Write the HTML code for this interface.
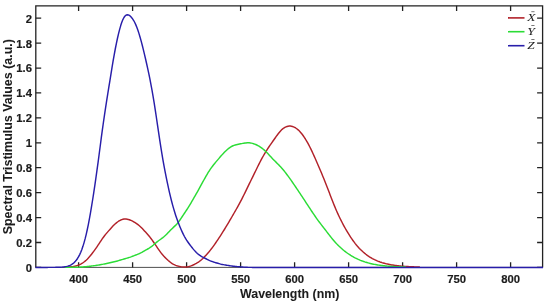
<!DOCTYPE html>
<html><head><meta charset="utf-8"><title>CIE 1964 Color Matching Functions</title>
<style>html,body{margin:0;padding:0;background:#fff;overflow:hidden}</style></head>
<body>
<svg width="550" height="307" viewBox="0 0 550 307" style="display:block">
<rect width="550" height="307" fill="#ffffff"/>
<g stroke="#222222" stroke-width="1.3" fill="none">
<path d="M35.8,267.4 L35.8,5.8 L542.6,5.8 L542.6,267.4"/>
<path d="M35.8,267.4 L542.6,267.4" stroke-width="0.8"/>
<path d="M78.60,267.4 v-5.1 M78.60,5.8 v5.1 M132.60,267.4 v-5.1 M132.60,5.8 v5.1 M186.60,267.4 v-5.1 M186.60,5.8 v5.1 M240.60,267.4 v-5.1 M240.60,5.8 v5.1 M294.60,267.4 v-5.1 M294.60,5.8 v5.1 M348.60,267.4 v-5.1 M348.60,5.8 v5.1 M402.60,267.4 v-5.1 M402.60,5.8 v5.1 M456.60,267.4 v-5.1 M456.60,5.8 v5.1 M510.60,267.4 v-5.1 M510.60,5.8 v5.1 M35.8,267.40 h5.4 M542.6,267.40 h-5.5 M35.8,242.48 h5.4 M542.6,242.48 h-5.5 M35.8,217.56 h5.4 M542.6,217.56 h-5.5 M35.8,192.64 h5.4 M542.6,192.64 h-5.5 M35.8,167.72 h5.4 M542.6,167.72 h-5.5 M35.8,142.80 h5.4 M542.6,142.80 h-5.5 M35.8,117.88 h5.4 M542.6,117.88 h-5.5 M35.8,92.96 h5.4 M542.6,92.96 h-5.5 M35.8,68.04 h5.4 M542.6,68.04 h-5.5 M35.8,43.12 h5.4 M542.6,43.12 h-5.5 M35.8,18.20 h5.4 M542.6,18.20 h-5.5 "/>
</g>
<g fill="none" stroke-width="1.45" stroke-linejoin="round">
<path stroke="#b2222a" d="M64.56,267.26 L65.64,267.22 L66.72,267.17 L67.80,267.11 L68.88,267.03 L69.96,266.93 L71.04,266.81 L72.12,266.67 L73.20,266.50 L74.28,266.29 L75.36,266.05 L76.44,265.76 L77.52,265.42 L78.60,265.02 L79.68,264.56 L80.76,264.03 L81.84,263.43 L82.92,262.76 L84.00,261.99 L85.08,261.14 L86.16,260.20 L87.24,259.17 L88.32,258.05 L89.40,256.84 L90.48,255.56 L91.56,254.21 L92.64,252.81 L93.72,251.37 L94.80,249.88 L95.88,248.35 L96.96,246.79 L98.04,245.20 L99.12,243.57 L100.20,241.92 L101.28,240.28 L102.36,238.71 L103.44,237.21 L104.52,235.78 L105.60,234.41 L106.68,233.11 L107.76,231.85 L108.84,230.63 L109.92,229.41 L111.00,228.19 L112.08,226.99 L113.16,225.84 L114.24,224.76 L115.32,223.75 L116.40,222.83 L117.48,221.99 L118.56,221.24 L119.64,220.58 L120.72,220.03 L121.80,219.59 L122.88,219.26 L123.96,219.07 L125.04,219.01 L126.12,219.06 L127.20,219.21 L128.28,219.47 L129.36,219.80 L130.44,220.21 L131.52,220.69 L132.60,221.21 L133.68,221.79 L134.76,222.41 L135.84,223.10 L136.92,223.85 L138.00,224.67 L139.08,225.55 L140.16,226.50 L141.24,227.51 L142.32,228.59 L143.40,229.74 L144.48,230.91 L145.56,232.08 L146.64,233.25 L147.72,234.47 L148.80,235.74 L149.88,237.07 L150.96,238.47 L152.04,239.93 L153.12,241.46 L154.20,243.03 L155.28,244.59 L156.36,246.19 L157.44,247.79 L158.52,249.38 L159.60,250.91 L160.68,252.38 L161.76,253.76 L162.84,255.06 L163.92,256.26 L165.00,257.37 L166.08,258.42 L167.16,259.46 L168.24,260.46 L169.32,261.40 L170.40,262.28 L171.48,263.08 L172.56,263.80 L173.64,264.43 L174.72,264.95 L175.80,265.38 L176.88,265.74 L177.96,266.06 L179.04,266.34 L180.12,266.57 L181.20,266.76 L182.28,266.90 L183.36,267.00 L184.44,267.03 L185.52,267.01 L186.60,266.92 L187.68,266.77 L188.76,266.54 L189.84,266.24 L190.92,265.89 L192.00,265.48 L193.08,265.01 L194.16,264.50 L195.24,263.95 L196.32,263.36 L197.40,262.73 L198.48,262.05 L199.56,261.28 L200.64,260.43 L201.72,259.51 L202.80,258.51 L203.88,257.44 L204.96,256.32 L206.04,255.15 L207.12,253.95 L208.20,252.73 L209.28,251.47 L210.36,250.15 L211.44,248.77 L212.52,247.33 L213.60,245.85 L214.68,244.32 L215.76,242.76 L216.84,241.17 L217.92,239.56 L219.00,237.93 L220.08,236.30 L221.16,234.63 L222.24,232.95 L223.32,231.23 L224.40,229.50 L225.48,227.73 L226.56,225.94 L227.64,224.13 L228.72,222.30 L229.80,220.45 L230.88,218.60 L231.96,216.74 L233.04,214.88 L234.12,213.01 L235.20,211.13 L236.28,209.24 L237.36,207.32 L238.44,205.38 L239.52,203.40 L240.60,201.38 L241.68,199.31 L242.76,197.20 L243.84,195.04 L244.92,192.85 L246.00,190.64 L247.08,188.41 L248.16,186.17 L249.24,183.94 L250.32,181.72 L251.40,179.53 L252.48,177.34 L253.56,175.14 L254.64,172.92 L255.72,170.70 L256.80,168.49 L257.88,166.30 L258.96,164.13 L260.04,162.00 L261.12,159.93 L262.20,157.92 L263.28,155.98 L264.36,154.11 L265.44,152.31 L266.52,150.57 L267.60,148.89 L268.68,147.25 L269.76,145.66 L270.84,144.10 L271.92,142.56 L273.00,141.04 L274.08,139.50 L275.16,137.97 L276.24,136.45 L277.32,134.96 L278.40,133.54 L279.48,132.18 L280.56,130.94 L281.64,129.82 L282.72,128.84 L283.80,128.03 L284.88,127.37 L285.96,126.85 L287.04,126.46 L288.12,126.20 L289.20,126.07 L290.28,126.07 L291.36,126.19 L292.44,126.45 L293.52,126.84 L294.60,127.35 L295.68,127.99 L296.76,128.73 L297.84,129.60 L298.92,130.59 L300.00,131.70 L301.08,132.93 L302.16,134.28 L303.24,135.74 L304.32,137.32 L305.40,139.00 L306.48,140.81 L307.56,142.70 L308.64,144.70 L309.72,146.78 L310.80,148.94 L311.88,151.17 L312.96,153.47 L314.04,155.83 L315.12,158.25 L316.20,160.71 L317.28,163.19 L318.36,165.69 L319.44,168.21 L320.52,170.76 L321.60,173.34 L322.68,175.94 L323.76,178.59 L324.84,181.27 L325.92,183.98 L327.00,186.73 L328.08,189.51 L329.16,192.33 L330.24,195.15 L331.32,197.95 L332.40,200.73 L333.48,203.45 L334.56,206.11 L335.64,208.70 L336.72,211.21 L337.80,213.63 L338.88,215.96 L339.96,218.21 L341.04,220.40 L342.12,222.52 L343.20,224.58 L344.28,226.57 L345.36,228.50 L346.44,230.38 L347.52,232.20 L348.60,233.97 L349.68,235.68 L350.76,237.33 L351.84,238.93 L352.92,240.47 L354.00,241.94 L355.08,243.36 L356.16,244.71 L357.24,246.00 L358.32,247.22 L359.40,248.39 L360.48,249.50 L361.56,250.55 L362.64,251.56 L363.72,252.51 L364.80,253.42 L365.88,254.28 L366.96,255.09 L368.04,255.86 L369.12,256.59 L370.20,257.27 L371.28,257.92 L372.36,258.54 L373.44,259.12 L374.52,259.67 L375.60,260.18 L376.68,260.67 L377.76,261.12 L378.84,261.54 L379.92,261.94 L381.00,262.31 L382.08,262.66 L383.16,262.98 L384.24,263.28 L385.32,263.57 L386.40,263.83 L387.48,264.08 L388.56,264.31 L389.64,264.53 L390.72,264.73 L391.80,264.92 L392.88,265.09 L393.96,265.25 L395.04,265.40 L396.12,265.54 L397.20,265.68 L398.28,265.80 L399.36,265.91 L400.44,266.02 L401.52,266.12 L402.60,266.21 L403.68,266.29 L404.76,266.37 L405.84,266.44 L406.92,266.51 L408.00,266.58 L409.08,266.64 L410.16,266.69 L411.24,266.74 L412.32,266.79 L413.40,266.83 L414.48,266.87 L415.56,266.91 L416.64,266.95 L417.72,266.98 L418.80,267.01 L419.88,267.04"/>
<path stroke="#2bdc36" d="M64.56,267.38 L65.64,267.38 L66.72,267.38 L67.80,267.37 L68.88,267.36 L69.96,267.35 L71.04,267.34 L72.12,267.32 L73.20,267.30 L74.28,267.28 L75.36,267.26 L76.44,267.23 L77.52,267.19 L78.60,267.15 L79.68,267.10 L80.76,267.05 L81.84,266.99 L82.92,266.92 L84.00,266.84 L85.08,266.75 L86.16,266.65 L87.24,266.55 L88.32,266.43 L89.40,266.31 L90.48,266.18 L91.56,266.04 L92.64,265.90 L93.72,265.75 L94.80,265.60 L95.88,265.44 L96.96,265.28 L98.04,265.11 L99.12,264.93 L100.20,264.73 L101.28,264.54 L102.36,264.34 L103.44,264.13 L104.52,263.93 L105.60,263.72 L106.68,263.51 L107.76,263.30 L108.84,263.07 L109.92,262.83 L111.00,262.58 L112.08,262.32 L113.16,262.05 L114.24,261.78 L115.32,261.50 L116.40,261.22 L117.48,260.93 L118.56,260.63 L119.64,260.32 L120.72,260.00 L121.80,259.67 L122.88,259.33 L123.96,259.02 L125.04,258.71 L126.12,258.40 L127.20,258.09 L128.28,257.77 L129.36,257.43 L130.44,257.07 L131.52,256.68 L132.60,256.25 L133.68,255.82 L134.76,255.40 L135.84,255.00 L136.92,254.59 L138.00,254.16 L139.08,253.71 L140.16,253.22 L141.24,252.68 L142.32,252.08 L143.40,251.43 L144.48,250.77 L145.56,250.16 L146.64,249.58 L147.72,248.99 L148.80,248.37 L149.88,247.70 L150.96,246.97 L152.04,246.17 L153.12,245.29 L154.20,244.33 L155.28,243.35 L156.36,242.44 L157.44,241.59 L158.52,240.78 L159.60,240.00 L160.68,239.22 L161.76,238.43 L162.84,237.62 L163.92,236.75 L165.00,235.80 L166.08,234.77 L167.16,233.68 L168.24,232.56 L169.32,231.43 L170.40,230.31 L171.48,229.21 L172.56,228.15 L173.64,227.11 L174.72,226.11 L175.80,225.14 L176.88,224.06 L177.96,222.75 L179.04,221.30 L180.12,219.74 L181.20,218.14 L182.28,216.50 L183.36,214.87 L184.44,213.25 L185.52,211.63 L186.60,209.99 L187.68,208.30 L188.76,206.57 L189.84,204.81 L190.92,203.01 L192.00,201.19 L193.08,199.34 L194.16,197.48 L195.24,195.59 L196.32,193.70 L197.40,191.80 L198.48,189.88 L199.56,187.93 L200.64,185.95 L201.72,183.96 L202.80,181.97 L203.88,179.99 L204.96,178.03 L206.04,176.12 L207.12,174.27 L208.20,172.49 L209.28,170.79 L210.36,169.19 L211.44,167.66 L212.52,166.21 L213.60,164.81 L214.68,163.47 L215.76,162.16 L216.84,160.88 L217.92,159.62 L219.00,158.35 L220.08,157.08 L221.16,155.84 L222.24,154.62 L223.32,153.43 L224.40,152.29 L225.48,151.20 L226.56,150.18 L227.64,149.21 L228.72,148.33 L229.80,147.54 L230.88,146.84 L231.96,146.26 L233.04,145.77 L234.12,145.36 L235.20,145.02 L236.28,144.73 L237.36,144.48 L238.44,144.26 L239.52,144.04 L240.60,143.83 L241.68,143.61 L242.76,143.39 L243.84,143.20 L244.92,143.04 L246.00,142.91 L247.08,142.83 L248.16,142.80 L249.24,142.84 L250.32,142.94 L251.40,143.13 L252.48,143.39 L253.56,143.70 L254.64,144.08 L255.72,144.51 L256.80,145.00 L257.88,145.54 L258.96,146.15 L260.04,146.82 L261.12,147.55 L262.20,148.34 L263.28,149.20 L264.36,150.15 L265.44,151.17 L266.52,152.25 L267.60,153.37 L268.68,154.52 L269.76,155.68 L270.84,156.85 L271.92,158.00 L273.00,159.13 L274.08,160.22 L275.16,161.30 L276.24,162.37 L277.32,163.43 L278.40,164.53 L279.48,165.63 L280.56,166.78 L281.64,167.98 L282.72,169.23 L283.80,170.54 L284.88,171.90 L285.96,173.29 L287.04,174.72 L288.12,176.17 L289.20,177.64 L290.28,179.15 L291.36,180.67 L292.44,182.22 L293.52,183.79 L294.60,185.37 L295.68,186.97 L296.76,188.56 L297.84,190.17 L298.92,191.78 L300.00,193.40 L301.08,195.03 L302.16,196.67 L303.24,198.31 L304.32,199.96 L305.40,201.62 L306.48,203.28 L307.56,204.93 L308.64,206.58 L309.72,208.22 L310.80,209.86 L311.88,211.48 L312.96,213.08 L314.04,214.68 L315.12,216.25 L316.20,217.80 L317.28,219.32 L318.36,220.81 L319.44,222.26 L320.52,223.68 L321.60,225.09 L322.68,226.49 L323.76,227.89 L324.84,229.28 L325.92,230.68 L327.00,232.08 L328.08,233.48 L329.16,234.88 L330.24,236.27 L331.32,237.63 L332.40,238.96 L333.48,240.26 L334.56,241.51 L335.64,242.72 L336.72,243.88 L337.80,244.99 L338.88,246.06 L339.96,247.08 L341.04,248.07 L342.12,249.02 L343.20,249.93 L344.28,250.81 L345.36,251.65 L346.44,252.46 L347.52,253.24 L348.60,253.99 L349.68,254.71 L350.76,255.40 L351.84,256.05 L352.92,256.68 L354.00,257.28 L355.08,257.86 L356.16,258.40 L357.24,258.92 L358.32,259.42 L359.40,259.89 L360.48,260.34 L361.56,260.76 L362.64,261.16 L363.72,261.54 L364.80,261.91 L365.88,262.25 L366.96,262.57 L368.04,262.88 L369.12,263.17 L370.20,263.44 L371.28,263.69 L372.36,263.94 L373.44,264.17 L374.52,264.38 L375.60,264.58 L376.68,264.77 L377.76,264.95 L378.84,265.12 L379.92,265.27 L381.00,265.42 L382.08,265.55 L383.16,265.68 L384.24,265.80 L385.32,265.91 L386.40,266.01 L387.48,266.11 L388.56,266.20 L389.64,266.28 L390.72,266.36 L391.80,266.43 L392.88,266.50 L393.96,266.57 L395.04,266.62 L396.12,266.68 L397.20,266.73 L398.28,266.78 L399.36,266.82 L400.44,266.86 L401.52,266.90 L402.60,266.94 L403.68,266.97 L404.76,267.00 L405.84,267.03"/>
<path stroke="#281eaa" d="M35.40,267.40 L36.48,267.40 L37.56,267.40 L38.64,267.40 L39.72,267.40 L40.80,267.40 L41.88,267.40 L42.96,267.40 L44.04,267.40 L45.12,267.40 L46.20,267.40 L47.28,267.40 L48.36,267.39 L49.44,267.39 L50.52,267.39 L51.60,267.38 L52.68,267.37 L53.76,267.37 L54.84,267.35 L55.92,267.34 L57.00,267.31 L58.08,267.28 L59.16,267.24 L60.24,267.19 L61.32,267.12 L62.40,267.04 L63.48,266.92 L64.56,266.78 L65.64,266.60 L66.72,266.38 L67.80,266.09 L68.88,265.74 L69.96,265.31 L71.04,264.79 L72.12,264.14 L73.20,263.37 L74.28,262.44 L75.36,261.33 L76.44,260.02 L77.52,258.48 L78.60,256.68 L79.68,254.60 L80.76,252.20 L81.84,249.46 L82.92,246.34 L84.00,242.84 L85.08,238.92 L86.16,234.57 L87.24,229.78 L88.32,224.55 L89.40,218.88 L90.48,212.83 L91.56,206.44 L92.64,199.75 L93.72,192.79 L94.80,185.57 L95.88,178.11 L96.96,170.45 L98.04,162.57 L99.12,154.50 L100.20,146.22 L101.28,137.95 L102.36,129.95 L103.44,122.23 L104.52,114.78 L105.60,107.60 L106.68,100.66 L107.76,93.88 L108.84,87.22 L109.92,80.57 L111.00,73.84 L112.08,67.14 L113.16,60.70 L114.24,54.56 L115.32,48.75 L116.40,43.31 L117.48,38.24 L118.56,33.58 L119.64,29.35 L120.72,25.58 L121.80,22.28 L122.88,19.56 L123.96,17.49 L125.04,16.03 L126.12,15.16 L127.20,14.80 L128.28,14.91 L129.36,15.42 L130.44,16.29 L131.52,17.45 L132.60,18.85 L133.68,20.52 L134.76,22.52 L135.84,24.88 L136.92,27.57 L138.00,30.57 L139.08,33.89 L140.16,37.50 L141.24,41.39 L142.32,45.54 L143.40,49.93 L144.48,54.45 L145.56,59.03 L146.64,63.72 L147.72,68.59 L148.80,73.66 L149.88,78.98 L150.96,84.57 L152.04,90.48 L153.12,96.70 L154.20,103.23 L155.28,110.10 L156.36,117.26 L157.44,124.53 L158.52,131.84 L159.60,139.04 L160.68,146.06 L161.76,152.84 L162.84,159.31 L163.92,165.44 L165.00,171.19 L166.08,176.66 L167.16,181.92 L168.24,186.97 L169.32,191.79 L170.40,196.37 L171.48,200.71 L172.56,204.81 L173.64,208.66 L174.72,212.28 L175.80,215.66 L176.88,218.80 L177.96,221.75 L179.04,224.54 L180.12,227.19 L181.20,229.73 L182.28,232.13 L183.36,234.40 L184.44,236.52 L185.52,238.45 L186.60,240.17 L187.68,241.75 L188.76,243.28 L189.84,244.76 L190.92,246.18 L192.00,247.56 L193.08,248.88 L194.16,250.13 L195.24,251.31 L196.32,252.42 L197.40,253.44 L198.48,254.35 L199.56,255.16 L200.64,255.89 L201.72,256.55 L202.80,257.15 L203.88,257.71 L204.96,258.25 L206.04,258.77 L207.12,259.29 L208.20,259.84 L209.28,260.37 L210.36,260.84 L211.44,261.28 L212.52,261.67 L213.60,262.04 L214.68,262.37 L215.76,262.69 L216.84,262.99 L217.92,263.29 L219.00,263.61 L220.08,263.91 L221.16,264.18 L222.24,264.42 L223.32,264.64 L224.40,264.84 L225.48,265.02 L226.56,265.19 L227.64,265.36 L228.72,265.52 L229.80,265.70 L230.88,265.87 L231.96,266.02 L233.04,266.16 L234.12,266.29 L235.20,266.41 L236.28,266.52 L237.36,266.62 L238.44,266.72 L239.52,266.81 L240.60,266.90 L241.68,266.99 L242.76,267.07 L243.84,267.14 L244.92,267.21 L246.00,267.26 L247.08,267.31 L248.16,267.35 L249.24,267.38 L250.32,267.39 L251.40,267.40 L252.48,267.40 L253.56,267.40 L254.64,267.40 L255.72,267.40 L256.80,267.40 L257.88,267.40 L258.96,267.40 L260.04,267.40 L261.12,267.40 L262.20,267.40 L263.28,267.40 L264.36,267.40 L265.44,267.40 L266.52,267.40 L267.60,267.40 L268.68,267.40 L269.76,267.40 L270.84,267.40 L271.92,267.40 L273.00,267.40 L274.08,267.40 L275.16,267.40 L276.24,267.40 L277.32,267.40 L278.40,267.40 L279.48,267.40 L280.56,267.40 L281.64,267.40 L282.72,267.40 L283.80,267.40 L284.88,267.40 L285.96,267.40 L287.04,267.40 L288.12,267.40 L289.20,267.40 L290.28,267.40 L291.36,267.40 L292.44,267.40 L293.52,267.40 L294.60,267.40 L295.68,267.40 L296.76,267.40 L297.84,267.40 L298.92,267.40 L300.00,267.40 L301.08,267.40 L302.16,267.40 L303.24,267.40 L304.32,267.40 L305.40,267.40 L306.48,267.40 L307.56,267.40 L308.64,267.40 L309.72,267.40 L310.80,267.40 L311.88,267.40 L312.96,267.40 L314.04,267.40 L315.12,267.40 L316.20,267.40 L317.28,267.40 L318.36,267.40 L319.44,267.40 L320.52,267.40 L321.60,267.40 L322.68,267.40 L323.76,267.40 L324.84,267.40 L325.92,267.40 L327.00,267.40 L328.08,267.40 L329.16,267.40 L330.24,267.40 L331.32,267.40 L332.40,267.40 L333.48,267.40 L334.56,267.40 L335.64,267.40 L336.72,267.40 L337.80,267.40 L338.88,267.40 L339.96,267.40 L341.04,267.40 L342.12,267.40 L343.20,267.40 L344.28,267.40 L345.36,267.40 L346.44,267.40 L347.52,267.40 L348.60,267.40 L349.68,267.40 L350.76,267.40 L351.84,267.40 L352.92,267.40 L354.00,267.40 L355.08,267.40 L356.16,267.40 L357.24,267.40 L358.32,267.40 L359.40,267.40 L360.48,267.40 L361.56,267.40 L362.64,267.40 L363.72,267.40 L364.80,267.40 L365.88,267.40 L366.96,267.40 L368.04,267.40 L369.12,267.40 L370.20,267.40 L371.28,267.40 L372.36,267.40 L373.44,267.40 L374.52,267.40 L375.60,267.40 L376.68,267.40 L377.76,267.40 L378.84,267.40 L379.92,267.40 L381.00,267.40 L382.08,267.40 L383.16,267.40 L384.24,267.40 L385.32,267.40 L386.40,267.40 L387.48,267.40 L388.56,267.40 L389.64,267.40 L390.72,267.40 L391.80,267.40 L392.88,267.40 L393.96,267.40 L395.04,267.40 L396.12,267.40 L397.20,267.40 L398.28,267.40 L399.36,267.40 L400.44,267.40 L401.52,267.40 L402.60,267.40 L403.68,267.40 L404.76,267.40 L405.84,267.40 L406.92,267.40 L408.00,267.40 L409.08,267.40 L410.16,267.40 L411.24,267.40 L412.32,267.40 L413.40,267.40 L414.48,267.40 L415.56,267.40 L416.64,267.40 L417.72,267.40 L418.80,267.40 L419.88,267.40 L420.96,267.40 L422.04,267.40 L423.12,267.40 L424.20,267.40 L425.28,267.40 L426.36,267.40 L427.44,267.40 L428.52,267.40 L429.60,267.40 L430.68,267.40 L431.76,267.40 L432.84,267.40 L433.92,267.40 L435.00,267.40 L436.08,267.40 L437.16,267.40 L438.24,267.40 L439.32,267.40 L440.40,267.40 L441.48,267.40 L442.56,267.40 L443.64,267.40 L444.72,267.40 L445.80,267.40 L446.88,267.40 L447.96,267.40 L449.04,267.40 L450.12,267.40 L451.20,267.40 L452.28,267.40 L453.36,267.40 L454.44,267.40 L455.52,267.40 L456.60,267.40 L457.68,267.40 L458.76,267.40 L459.84,267.40 L460.92,267.40 L462.00,267.40 L463.08,267.40 L464.16,267.40 L465.24,267.40 L466.32,267.40 L467.40,267.40 L468.48,267.40 L469.56,267.40 L470.64,267.40 L471.72,267.40 L472.80,267.40 L473.88,267.40 L474.96,267.40 L476.04,267.40 L477.12,267.40 L478.20,267.40 L479.28,267.40 L480.36,267.40 L481.44,267.40 L482.52,267.40 L483.60,267.40 L484.68,267.40 L485.76,267.40 L486.84,267.40 L487.92,267.40 L489.00,267.40 L490.08,267.40 L491.16,267.40 L492.24,267.40 L493.32,267.40 L494.40,267.40 L495.48,267.40 L496.56,267.40 L497.64,267.40 L498.72,267.40 L499.80,267.40 L500.88,267.40 L501.96,267.40 L503.04,267.40 L504.12,267.40 L505.20,267.40 L506.28,267.40 L507.36,267.40 L508.44,267.40 L509.52,267.40 L510.60,267.40 L511.68,267.40 L512.76,267.40 L513.84,267.40 L514.92,267.40 L516.00,267.40 L517.08,267.40 L518.16,267.40 L519.24,267.40 L520.32,267.40 L521.40,267.40 L522.48,267.40 L523.56,267.40 L524.64,267.40 L525.72,267.40 L526.80,267.40 L527.88,267.40 L528.96,267.40 L530.04,267.40 L531.12,267.40 L532.20,267.40 L533.28,267.40 L534.36,267.40 L535.44,267.40 L536.52,267.40 L537.60,267.40 L538.68,267.40 L539.76,267.40 L540.84,267.40 L541.92,267.40 L543.00,267.40"/>
</g>
<g font-family="Liberation Sans, Arial, sans-serif" font-weight="bold" font-size="11.3" fill="#1c1c1c" stroke="#1c1c1c" stroke-width="0.18">
<text x="78.60" y="283.3" text-anchor="middle">400</text>
<text x="132.60" y="283.3" text-anchor="middle">450</text>
<text x="186.60" y="283.3" text-anchor="middle">500</text>
<text x="240.60" y="283.3" text-anchor="middle">550</text>
<text x="294.60" y="283.3" text-anchor="middle">600</text>
<text x="348.60" y="283.3" text-anchor="middle">650</text>
<text x="402.60" y="283.3" text-anchor="middle">700</text>
<text x="456.60" y="283.3" text-anchor="middle">750</text>
<text x="510.60" y="283.3" text-anchor="middle">800</text>
<text x="32" y="271.80" text-anchor="end">0</text>
<text x="32" y="246.88" text-anchor="end">0.2</text>
<text x="32" y="221.96" text-anchor="end">0.4</text>
<text x="32" y="197.04" text-anchor="end">0.6</text>
<text x="32" y="172.12" text-anchor="end">0.8</text>
<text x="32" y="147.20" text-anchor="end">1</text>
<text x="32" y="122.28" text-anchor="end">1.2</text>
<text x="32" y="97.36" text-anchor="end">1.4</text>
<text x="32" y="72.44" text-anchor="end">1.6</text>
<text x="32" y="47.52" text-anchor="end">1.8</text>
<text x="32" y="22.60" text-anchor="end">2</text>
</g>
<g font-family="Liberation Sans, Arial, sans-serif" font-weight="bold" font-size="12.4" fill="#1c1c1c" stroke="#1c1c1c" stroke-width="0.05">
<text x="289.7" y="298.3" text-anchor="middle">Wavelength (nm)</text>
<text transform="translate(12.3,136.7) rotate(-90)" text-anchor="middle" textLength="195.2" lengthAdjust="spacingAndGlyphs">Spectral Tristimulus Values (a.u.)</text>
</g>
<g stroke-width="1.6" fill="none">
<path stroke="#b2222a" d="M508,17.9 H524.5"/>
<path stroke="#2bdc36" d="M508,31.7 H524.5"/>
<path stroke="#281eaa" d="M508,45.7 H524.5"/>
</g>
<g font-family="Liberation Serif, Times New Roman, serif" font-style="italic" font-size="10.6" fill="#1c1c1c">
<text x="527.2" y="21.20" textLength="8.2" lengthAdjust="spacingAndGlyphs">X</text>
<path d="M531.3,11.70 h3.2" stroke="#1c1c1c" stroke-width="0.6"/>
<text x="527.2" y="35.00" textLength="7.6" lengthAdjust="spacingAndGlyphs">Y</text>
<path d="M531.3,25.50 h3.2" stroke="#1c1c1c" stroke-width="0.6"/>
<text x="527.2" y="49.00" textLength="7.4" lengthAdjust="spacingAndGlyphs">Z</text>
<path d="M531.3,39.50 h3.2" stroke="#1c1c1c" stroke-width="0.6"/>
</g>
</svg>
</body></html>
